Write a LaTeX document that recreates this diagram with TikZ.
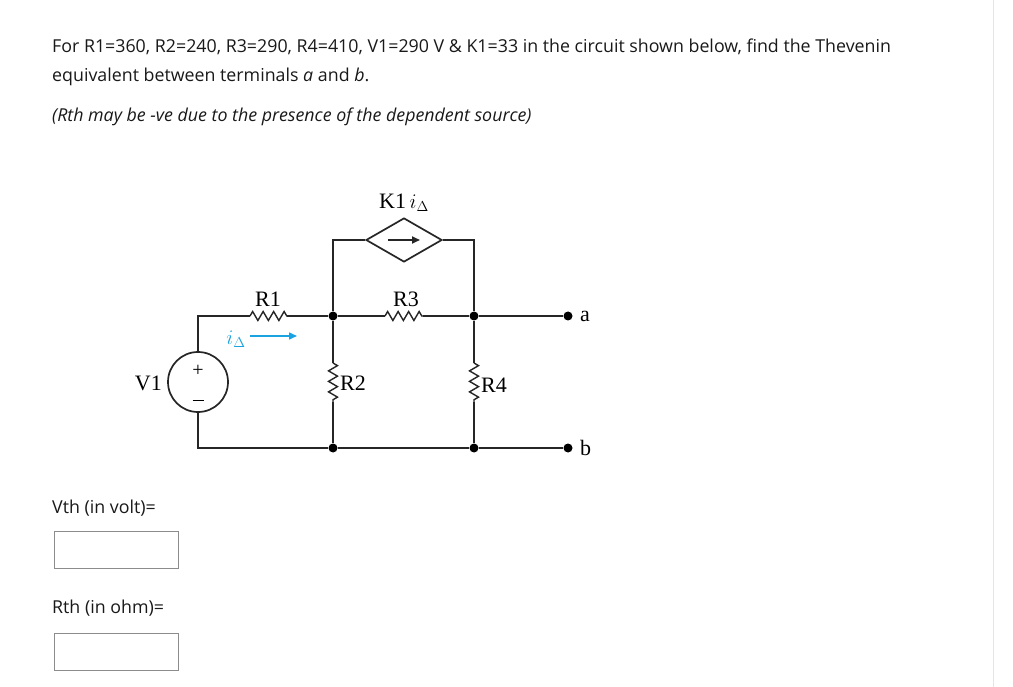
\documentclass[tikz,border=0pt]{standalone}
\usepackage{fontspec}
\setmainfont{Open Sans}
\newfontfamily\ckt{Liberation Serif}
\usetikzlibrary{decorations.pathmorphing,arrows.meta,shapes.geometric}
\definecolor{ia}{HTML}{1AA3E0}
\begin{document}
\begin{tikzpicture}[x=1pt,y=-1pt,
  wire/.style={line width=1.7pt,black!85},
  zz/.style={wire,line width=1.4pt,decorate,decoration={zigzag,segment length=10.5,amplitude=4.5}},
  dot/.style={circle,fill=black,inner sep=0,minimum size=9pt},
  lab/.style={font=\ckt\fontsize{22}{22}\selectfont,inner sep=0},
  txt/.style={anchor=west,inner sep=0,font=\fontsize{17.8}{20}\selectfont,text=black!90},
  box/.style={draw=black!45,line width=0.8pt,fill=white}]
\useasboundingbox (0,0) rectangle (1013,687);
\fill[white] (0,0) rectangle (1013,687);
\draw[black!10,line width=1pt] (993,0) -- (993,687);
\node[txt] (t1) at (52,47) {For R1=360, R2=240, R3=290, R4=410, V1=290 V \& K1=33 in the circuit shown below, find the Thevenin};
\node[txt] (t2) at (52,77) {equivalent between terminals \textit{a} and \textit{b}.};
\node[txt] (t3) at (52,117) {\textit{(Rth may be -ve due to the presence of the dependent source)}};
\node[txt] (t4) at (52,508) {Vth (in volt)=};
\node[box,minimum width=124pt,minimum height=37pt,anchor=north west] (b1) at (54,531) {};
\node[txt] (t5) at (52,608) {Rth (in ohm)=};
\node[box,minimum width=124pt,minimum height=37pt,anchor=north west] (b2) at (54,633) {};
% circuit coordinates
\coordinate (tl) at (198,316);
\coordinate (bl) at (198,448);
\node[dot] (m) at (333,316) {};
\node[dot] (r) at (474,316) {};
\node[dot] (mb) at (333,448) {};
\node[dot] (rb) at (474,448) {};
\node[dot] (a) at (568,316) {};
\node[dot] (b) at (568,448) {};
\coordinate (mt) at (333,240);
\coordinate (rt) at (474,240);
\node[circle,draw,line width=1.7pt,black!85,minimum size=60pt,inner sep=0] (V) at (198,382) {};
\node[lab,font=\ckt\fontsize{20}{20}\selectfont] (pl) at (198,371) {+};
\node[lab] (mi) at (198,400) {\rule{11pt}{1pt}};
\node[lab,anchor=east] (vl) at (162,383) {V1};
\node[draw,line width=1.7pt,black!85,diamond,minimum width=76pt,minimum height=44pt,inner sep=0,shape aspect=1.7] (D) at (404,240) {};
% resistor ends
\coordinate (r1a) at (250,316); \coordinate (r1b) at (287,316);
\coordinate (r3a) at (385,316); \coordinate (r3b) at (423,316);
\coordinate (r2a) at (333,363); \coordinate (r2b) at (333,402);
\coordinate (r4a) at (474,363); \coordinate (r4b) at (474,402);
\draw[wire] (V.north) -- (tl) -- (r1a);
\draw[zz] (r1a) -- (r1b);
\draw[wire] (r1b) -- (m) -- (r3a);
\draw[zz] (r3a) -- (r3b);
\draw[wire] (r3b) -- (r) -- (a);
\draw[wire] (V.south) -- (bl) -- (mb) -- (rb) -- (b);
\draw[wire] (m) -- (r2a); \draw[zz] (r2a) -- (r2b); \draw[wire] (r2b) -- (mb);
\draw[wire] (r) -- (r4a); \draw[zz] (r4a) -- (r4b); \draw[wire] (r4b) -- (rb);
\draw[wire] (m) -- (mt) -- (D.west);
\draw[wire] (D.east) -- (rt) -- (r);
\coordinate (da) at (388,240); \coordinate (db) at (420,240);
\draw[wire,-{Triangle[length=8pt,width=7pt]}] (da) -- (db);
\node[lab,anchor=south] (K) at (404,212) {K1\,$i_\Delta$};
\node[lab,anchor=south] (R1l) at (268,307) {R1};
\node[lab,anchor=south] (R3l) at (406,307) {R3};
\node[lab,anchor=west] (R2l) at (340,383) {R2};
\node[lab,anchor=west] (R4l) at (481,385) {R4};
\node[lab,anchor=west] (al) at (580,316) {a};
\node[lab,anchor=west] (bl2) at (580,448) {b};
\node[lab,text=ia] (il) at (236,339) {$i_\Delta$};
\coordinate (ia1) at (250,336); \coordinate (ia2) at (297,336);
\draw[ia,line width=1.5pt,-{Triangle[length=8pt,width=7pt]}] (ia1) -- (ia2);
\end{tikzpicture}
\end{document}
